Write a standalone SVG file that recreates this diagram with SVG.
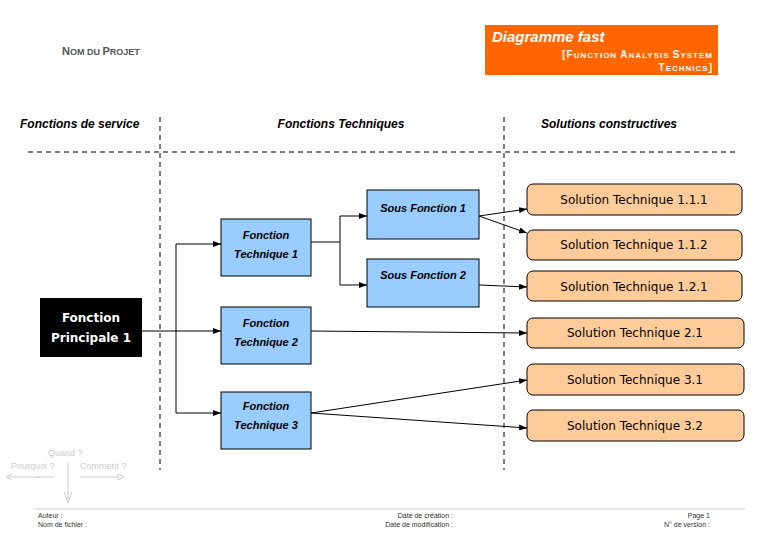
<svg xmlns="http://www.w3.org/2000/svg" width="768" height="543" viewBox="0 0 768 543">
<style>
.h{font-family:"Liberation Sans",Arial,sans-serif;font-weight:bold;font-style:italic;font-size:12px;fill:#000}
.ft{fill:#99CCFF;stroke:#000;stroke-width:1}
.ftt{font-family:"Liberation Sans",Arial,sans-serif;font-weight:bold;font-style:italic;font-size:11px;text-anchor:middle}
.sol{fill:#FFCC99;stroke:#000;stroke-width:1}
.solt{font-family:"DejaVu Sans",sans-serif;font-size:12px;text-anchor:middle}
.c{stroke:#000;stroke-width:1;fill:none}
.d{stroke:#000;stroke-width:1;stroke-dasharray:5,4}
.f{font-family:"Liberation Sans",Arial,sans-serif;font-size:7px;fill:#333}
.g{font-family:"Liberation Sans",Arial,sans-serif;font-size:9px;fill:#ccc}
.sc{font-family:"Liberation Sans",Arial,sans-serif;font-weight:bold;font-size:10px;fill:#fff;letter-spacing:1px}
</style>
<defs><marker id="a" markerWidth="8" markerHeight="6" refX="8" refY="3" orient="auto" markerUnits="userSpaceOnUse"><path d="M0,0L8,3L0,6z" fill="#000"/></marker></defs>
<rect width="768" height="543" fill="#fff"/>
<text x="62" y="55" font-family="Liberation Sans,Arial,sans-serif" font-weight="bold" font-size="11" fill="#555">N<tspan font-size="9">OM DU </tspan>P<tspan font-size="9">ROJET</tspan></text>
<g id="title">
<rect x="485" y="25" width="233" height="50" fill="#FF6600"/>
<text x="492" y="42" font-family="Liberation Sans,Arial,sans-serif" font-weight="bold" font-style="italic" font-size="15" fill="#fff">Diagramme fast</text>
<text class="sc" x="713" y="58" text-anchor="end">[F<tspan font-size="8">UNCTION </tspan>A<tspan font-size="8">NALYSIS </tspan>S<tspan font-size="8">YSTEM</tspan></text>
<text class="sc" x="713" y="71" text-anchor="end">T<tspan font-size="8">ECHNICS</tspan>]</text>
</g>
<text class="h" x="20" y="128">Fonctions de service</text>
<text class="h" x="341" y="128" text-anchor="middle">Fonctions Techniques</text>
<text class="h" x="609" y="128" text-anchor="middle">Solutions constructives</text>
<line class="d" x1="28" y1="152" x2="735" y2="152"/>
<line class="d" x1="160" y1="117" x2="160" y2="470"/>
<line class="d" x1="504" y1="117" x2="504" y2="470"/>
<g id="connectors">
<line class="c" x1="142" y1="331" x2="221" y2="331" marker-end="url(#a)"/>
<polyline class="c" points="176,331 176,244 221,244" marker-end="url(#a)"/>
<polyline class="c" points="176,331 176,413 221,413" marker-end="url(#a)"/>
<polyline class="c" points="311,242 340,242 340,216 367,216" marker-end="url(#a)"/>
<polyline class="c" points="340,242 340,285 367,285" marker-end="url(#a)"/>
<line class="c" x1="479" y1="216" x2="527" y2="209" marker-end="url(#a)"/>
<line class="c" x1="479" y1="216" x2="527" y2="233" marker-end="url(#a)"/>
<line class="c" x1="479" y1="285" x2="527" y2="287" marker-end="url(#a)"/>
<line class="c" x1="311" y1="331" x2="527" y2="333" marker-end="url(#a)"/>
<line class="c" x1="311" y1="413" x2="527" y2="380" marker-end="url(#a)"/>
<line class="c" x1="311" y1="413" x2="527" y2="428" marker-end="url(#a)"/>
</g>
<g id="fp"><rect x="40" y="298" width="102" height="59" fill="#000"/>
<text x="91" y="322" text-anchor="middle" font-family="DejaVu Sans,sans-serif" font-weight="bold" font-size="12" fill="#fff">Fonction</text>
<text x="91" y="342" text-anchor="middle" font-family="DejaVu Sans,sans-serif" font-weight="bold" font-size="12" fill="#fff">Principale 1</text></g>
<g id="ft1"><rect class="ft" x="221" y="219" width="90" height="57"/><text class="ftt" x="266" y="239">Fonction</text><text class="ftt" x="266" y="258">Technique 1</text></g>
<g id="ft2"><rect class="ft" x="221" y="307" width="90" height="57"/><text class="ftt" x="266" y="327">Fonction</text><text class="ftt" x="266" y="346">Technique 2</text></g>
<g id="ft3"><rect class="ft" x="221" y="392" width="90" height="57"/><text class="ftt" x="266" y="410">Fonction</text><text class="ftt" x="266" y="429">Technique 3</text></g>
<g id="sf1"><rect class="ft" x="367" y="190" width="112" height="49"/><text class="ftt" x="423" y="212">Sous Fonction 1</text></g>
<g id="sf2"><rect class="ft" x="367" y="259" width="112" height="48"/><text class="ftt" x="423" y="279">Sous Fonction 2</text></g>
<g id="s111"><rect class="sol" x="527" y="184" width="215" height="31" rx="6"/><text class="solt" x="634" y="204">Solution Technique 1.1.1</text></g>
<g id="s112"><rect class="sol" x="527" y="230" width="215" height="30" rx="6"/><text class="solt" x="634" y="249">Solution Technique 1.1.2</text></g>
<g id="s121"><rect class="sol" x="527" y="271" width="215" height="30" rx="6"/><text class="solt" x="634" y="291">Solution Technique 1.2.1</text></g>
<g id="s21"><rect class="sol" x="527" y="318" width="217" height="30" rx="6"/><text class="solt" x="635" y="337">Solution Technique 2.1</text></g>
<g id="s31"><rect class="sol" x="527" y="364" width="217" height="31" rx="6"/><text class="solt" x="635" y="384">Solution Technique 3.1</text></g>
<g id="s32"><rect class="sol" x="527" y="410" width="217" height="31" rx="6"/><text class="solt" x="635" y="430">Solution Technique 3.2</text></g>
<g id="legend">
<text class="g" x="48" y="456">Quand ?</text>
<text class="g" x="11" y="469">Pourquoi ?</text>
<text class="g" x="80" y="469">Comment ?</text>
<path d="M6,477L12,474M6,477L12,480M8,477L40,477M54,477L38,477" stroke="#ccc" fill="none"/>
<path d="M80,477L118,477M124,477L118,474L118,480Z" stroke="#ccc" fill="none"/>
<path d="M68,462L68,500M64,492L68,503L72,492" stroke="#ccc" fill="none"/>
</g>
<line x1="35" y1="509" x2="745" y2="509" stroke="#ccc"/>
<text class="f" x="38" y="518">Auteur :</text>
<text class="f" x="38" y="527">Nom de fichier :</text>
<text class="f" x="453" y="518" text-anchor="end">Date de création :</text>
<text class="f" x="453" y="527" text-anchor="end">Date de modification :</text>
<text class="f" x="710" y="518" text-anchor="end">Page 1</text>
<text class="f" x="710" y="527" text-anchor="end">N° de version :</text>
</svg>
